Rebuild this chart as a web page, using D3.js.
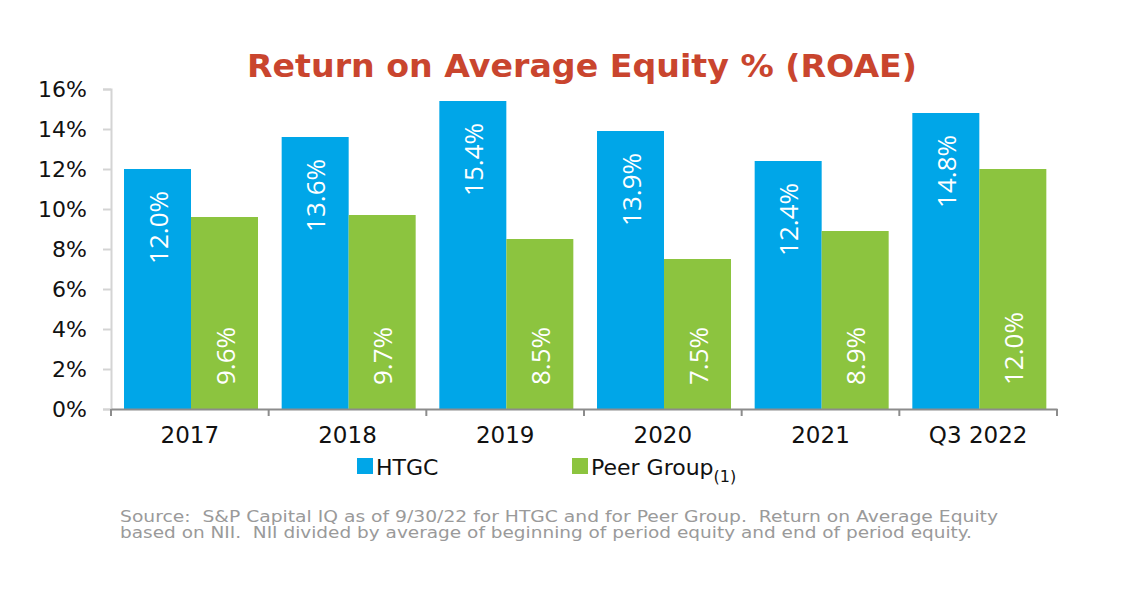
<!DOCTYPE html>
<html><head><meta charset="utf-8">
<script src="https://cdn.jsdelivr.net/npm/d3@7"></script>
<style>body{margin:0;background:#fff}</style>
</head><body>
<svg id="c" width="1134" height="594"></svg>
<script>
const categories = ["2017","2018","2019","2020","2021","Q3 2022"];
const htgc = [12.0, 13.6, 15.4, 13.9, 12.4, 14.8];
const peer = [9.6, 9.7, 8.5, 7.5, 8.9, 12.0];
const yTicks = [0,2,4,6,8,10,12,14,16];
const seriesNames = ["HTGC","Peer Group"];
const colors = ["#00A6E8","#8CC43F"];

const svg = d3.select("#c");
const font = "Verdana, 'DejaVu Sans', sans-serif";
const x = d3.scaleBand().domain(categories).range([111,1057]).paddingInner(0).paddingOuter(0);
const y = d3.scaleLinear().domain([0,16]).range([409,89]);

svg.append("text").attr("x",247).attr("y",77)
  .attr("font-family",font).attr("font-weight","bold").attr("font-size",32)
  .attr("textLength",670).attr("lengthAdjust","spacingAndGlyphs")
  .attr("fill","#C9452E").text("Return on Average Equity % (ROAE)");

// y axis
const ya = svg.append("g").attr("transform","translate(111,0)")
  .call(d3.axisLeft(y).tickValues(yTicks).tickFormat(d=>d+"%").tickSize(8).tickPadding(16));
ya.select(".domain").attr("stroke","#d4d4d4").attr("stroke-width",2);
ya.selectAll(".tick line").attr("stroke","#d4d4d4").attr("stroke-width",2);
ya.selectAll("text").attr("font-family",font).attr("font-size",22).attr("fill","#111");

const bw = 67, off = 13;
const labelFont = "'Open Sans', sans-serif";
const groups = svg.append("g").selectAll("g").data(categories).join("g")
  .attr("transform",d=>`translate(${x(d)},0)`);
groups.append("rect").attr("x",off).attr("width",bw)
  .attr("y",(d,i)=>y(htgc[i])).attr("height",(d,i)=>y(0)-y(htgc[i])).attr("fill",colors[0]);
groups.append("rect").attr("x",off+bw).attr("width",bw)
  .attr("y",(d,i)=>y(peer[i])).attr("height",(d,i)=>y(0)-y(peer[i])).attr("fill",colors[1]);
groups.append("text")
  .attr("transform",(d,i)=>`translate(${off+bw/2+10},${y(htgc[i])+22}) rotate(-90)`)
  .attr("text-anchor","end").attr("font-family",labelFont).attr("font-size",26).attr("fill","#fff")
  .text((d,i)=>htgc[i].toFixed(1)+"%");
groups.append("text")
  .attr("transform",(d,i)=>`translate(${off+bw*1.5+10},${y(0)-24}) rotate(-90)`)
  .attr("text-anchor","start").attr("font-family",labelFont).attr("font-size",26).attr("fill","#fff")
  .text((d,i)=>peer[i].toFixed(1)+"%");

// x axis
const xa = svg.append("g").attr("transform","translate(0,409)")
  .call(d3.axisBottom(x).tickSize(0).tickPadding(16));
xa.select(".domain").attr("stroke","#8c8c8c").attr("stroke-width",2);
xa.selectAll("text").attr("font-family",font).attr("font-size",23).attr("fill","#111")
  .attr("dy",null).attr("y",34);
svg.append("g").selectAll("line").data(d3.range(categories.length+1)).join("line")
  .attr("x1",i=>111+i*x.bandwidth()).attr("x2",i=>111+i*x.bandwidth())
  .attr("y1",409).attr("y2",416).attr("stroke","#8c8c8c").attr("stroke-width",2);

// legend
const leg = [{n:seriesNames[0],c:colors[0],x:357},{n:seriesNames[1],c:colors[1],x:572}];
leg.forEach((l,i)=>{
  svg.append("rect").attr("x",l.x).attr("y",458).attr("width",16).attr("height",16).attr("fill",l.c);
  const t = svg.append("text").attr("x",l.x+19).attr("y",475).attr("font-family",font)
    .attr("font-size",22).attr("fill","#111").text(l.n);
  if(i===1) t.append("tspan").attr("font-size",16).attr("dy",7).text("(1)");
});

// source
const src = ["Source:  S&P Capital IQ as of 9/30/22 for HTGC and for Peer Group.  Return on Average Equity",
 "based on NII.  NII divided by average of beginning of period equity and end of period equity."];
const srcLen = [878, 852];
svg.append("g").selectAll("text").data(src).join("text")
  .attr("x",120).attr("y",(d,i)=>522+i*16).attr("font-family",font)
  .attr("font-size",15).attr("fill","#9a9a9a").attr("xml:space","preserve").style("white-space","pre")
  .attr("textLength",(d,i)=>srcLen[i]).attr("lengthAdjust","spacingAndGlyphs").text(d=>d);
</script>
</body></html>
